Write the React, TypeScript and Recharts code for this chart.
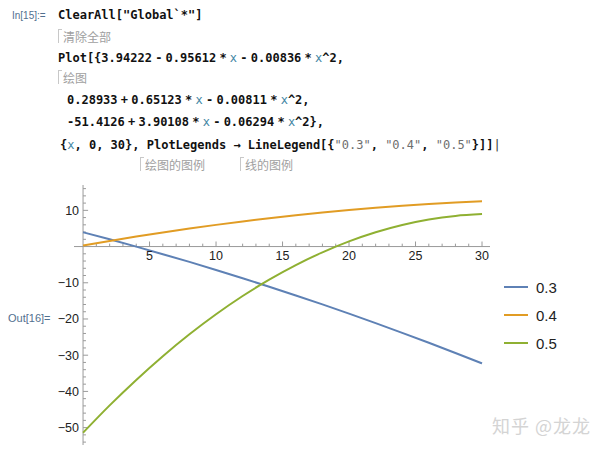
import { LineChart, Line, XAxis, YAxis, ReferenceLine, ReferenceDot } from 'recharts'

// x samples (every 2 units, 0..30) and the three curves
const xs = [0, 2, 4, 6, 8, 10, 12, 14, 16, 18, 20, 22, 24, 26, 28, 30]
const s03 = [3.94, 2.0, -0.02, -2.1, -4.24, -6.46, -8.74, -11.08, -13.5, -15.98, -18.52, -21.14, -23.82, -26.57, -29.38, -32.27]
const s04 = [0.29, 1.56, 2.76, 3.9, 4.98, 5.99, 6.94, 7.82, 8.63, 9.38, 10.07, 10.69, 11.25, 11.74, 12.17, 12.53]
const s05 = [-51.41, -43.86, -36.82, -30.27, -24.23, -18.7, -13.66, -9.13, -5.11, -1.59, 1.43, 3.95, 5.96, 7.47, 8.47, 8.97]

const seriesNames = ['0.3', '0.4', '0.5']
const seriesColors = ['#5E81B5', '#E19C24', '#8FB032']

const xMajor = [5, 10, 15, 20, 25, 30]
const xMinor = [1, 2, 3, 4, 6, 7, 8, 9, 11, 12, 13, 14, 16, 17, 18, 19, 21, 22, 23, 24, 26, 27, 28, 29]
const yMajor = [10, -10, -20, -30, -40, -50]
const yMinor = [16, 14, 12, 8, 6, 4, 2, -2, -4, -6, -8, -12, -14, -16, -18, -22, -24, -26, -28, -32, -34, -36, -38, -42, -44, -46, -48, -52, -54]

const data = xs.map((x, i) => ({ x, s03: s03[i], s04: s04[i], s05: s05[i] }))

const AXIS = '#9a9a9a'
const TICK_FONT = { fill: '#222', fontSize: 12.5, fontFamily: '"Liberation Sans", Arial, sans-serif' }
const fmt = (v: number) => (v < 0 ? '\u2212' + Math.abs(v) : String(v))

// notebook input, split into coloured bits: k=code, v=variable, s=string
type Seg = { t: string; k?: 'v' | 's' | 'c' }
const codeLines: { top: number; left: number; ws?: number; segs: Seg[] }[] = [
  { top: 7, left: 58, segs: [{ t: 'ClearAll["Global`*"]' }] },
  { top: 50, left: 58, ws: -4, segs: [{ t: 'Plot[{3.94222 - 0.95612 * ' }, { t: 'x', k: 'v' }, { t: ' - 0.00836 * ' }, { t: 'x', k: 'v' }, { t: '^2,' }] },
  { top: 92, left: 67, ws: -4, segs: [{ t: '0.28933 + 0.65123 * ' }, { t: 'x', k: 'v' }, { t: ' - 0.00811 * ' }, { t: 'x', k: 'v' }, { t: '^2,' }] },
  { top: 114, left: 67, ws: -4, segs: [{ t: '-51.4126 + 3.90108 * ' }, { t: 'x', k: 'v' }, { t: ' - 0.06294 * ' }, { t: 'x', k: 'v' }, { t: '^2},' }] },
  {
    top: 137, left: 60, segs: [
      { t: '{' }, { t: 'x', k: 'v' }, { t: ', 0, 30}, PlotLegends \u2192 LineLegend[{' },
      { t: '"0.3"', k: 's' }, { t: ', ' }, { t: '"0.4"', k: 's' }, { t: ', ' }, { t: '"0.5"', k: 's' }, { t: '}]]' }, { t: '|', k: 'c' },
    ],
  },
]
const notes = [
  { top: 29, left: 58, t: '清除全部' },
  { top: 70, left: 58, t: '绘图' },
  { top: 157, left: 140, t: '绘图的图例' },
  { top: 157, left: 240, t: '线的图例' },
]

function Note({ top, left, t }: { top: number; left: number; t: string }) {
  return (
    <div style={{ position: 'absolute', top, left, fontFamily: '"Noto Sans CJK SC", sans-serif', fontSize: 12, color: '#a0a0a0', lineHeight: '15px', whiteSpace: 'nowrap' }}>
      <span style={{ display: 'inline-block', width: 3, height: 13, borderLeft: '1px solid #c8c8c8', borderTop: '1px solid #c8c8c8', verticalAlign: 'top', marginRight: 1 }} />
      {t}
    </div>
  )
}

export default function App() {
  return (
    <div style={{ position: 'absolute', left: 0, top: 0, width: 600, height: 452, background: '#fff', overflow: 'hidden' }}>
      <div style={{ position: 'absolute', left: 12, top: 10, fontFamily: '"Liberation Sans", Arial, sans-serif', fontSize: 10, color: '#52708f' }}>In[15]:=</div>
      {codeLines.map((ln, i) => (
        <div key={i} style={{ position: 'absolute', top: ln.top, left: ln.left, fontFamily: '"DejaVu Sans Mono", monospace', fontWeight: 'bold', fontSize: 12, lineHeight: '16px', color: '#111', whiteSpace: 'pre', wordSpacing: ln.ws ?? 0 }}>
          {ln.segs.map((s, j) => (
            <span key={j} style={s.k === 'v' ? { color: '#3f86a3', fontWeight: 'normal' } : s.k === 's' ? { color: '#6e6e6e', fontWeight: 'normal' } : s.k === 'c' ? { fontWeight: 'normal', color: '#333' } : undefined}>{s.t}</span>
          ))}
        </div>
      ))}
      {notes.map((n, i) => <Note key={i} {...n} />)}

      <div style={{ position: 'absolute', left: 8, top: 312, fontFamily: '"Liberation Sans", Arial, sans-serif', fontSize: 11, color: '#52708f' }}>Out[16]=</div>

      <div style={{ position: 'absolute', left: 0, top: 0 }}>
        <LineChart width={600} height={452} data={data} margin={{ top: 185, right: 110, bottom: 7, left: 74 }}>
          <XAxis dataKey="x" type="number" domain={[-0.68, 30.6]} allowDataOverflow hide />
          <YAxis type="number" domain={[-54.8, 17]} allowDataOverflow hide />
          <ReferenceLine y={0} stroke={AXIS} strokeWidth={1} />
          <ReferenceLine x={0} stroke={AXIS} strokeWidth={1} />
          {xMinor.map((v) => (
            <ReferenceLine key={'xm' + v} segment={[{ x: v, y: 0 }, { x: v, y: 0.8 }]} stroke={AXIS} />
          ))}
          {xMajor.map((v) => (
            <ReferenceLine key={'xM' + v} segment={[{ x: v, y: 0 }, { x: v, y: 1.4 }]} stroke={AXIS} />
          ))}
          {yMinor.map((v) => (
            <ReferenceLine key={'ym' + v} segment={[{ x: 0, y: v }, { x: 0.22, y: v }]} stroke={AXIS} />
          ))}
          {yMajor.map((v) => (
            <ReferenceLine key={'yM' + v} segment={[{ x: 0, y: v }, { x: 0.38, y: v }]} stroke={AXIS} />
          ))}
          {xMajor.map((v) => (
            <ReferenceDot key={'xl' + v} x={v} y={0} r={0} fill="none" stroke="none"
              label={{ value: fmt(v), position: 'bottom', offset: 5, ...TICK_FONT }} />
          ))}
          {yMajor.map((v) => (
            <ReferenceDot key={'yl' + v} x={0} y={v} r={0} fill="none" stroke="none"
              label={{ value: fmt(v), position: 'left', offset: 4, ...TICK_FONT }} />
          ))}
          <Line type="monotone" dataKey="s03" stroke={seriesColors[0]} strokeWidth={2} dot={false} isAnimationActive={false} />
          <Line type="monotone" dataKey="s04" stroke={seriesColors[1]} strokeWidth={2} dot={false} isAnimationActive={false} />
          <Line type="monotone" dataKey="s05" stroke={seriesColors[2]} strokeWidth={2} dot={false} isAnimationActive={false} />
        </LineChart>
      </div>

      {seriesNames.map((name, i) => (
        <div key={name} style={{ position: 'absolute', left: 504, top: 278 + i * 28, height: 18, display: 'flex', alignItems: 'center', fontFamily: '"Liberation Sans", Arial, sans-serif', fontSize: 15, color: '#222' }}>
          <span style={{ display: 'inline-block', width: 24, height: 2, background: seriesColors[i], marginRight: 8 }} />
          {name}
        </div>
      ))}

      <div style={{ position: 'absolute', left: 492, top: 412, fontFamily: '"Noto Sans CJK SC", sans-serif', fontSize: 18, letterSpacing: 1, color: '#d4d4d4' }}>知乎 @龙龙</div>
    </div>
  )
}
